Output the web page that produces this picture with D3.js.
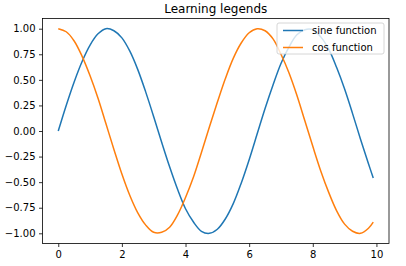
<!DOCTYPE html>
<html>
<head>
<meta charset="utf-8">
<script src="https://cdn.jsdelivr.net/npm/d3@7"></script>
<style>
  html, body { margin: 0; background: #fff; }
  svg { display: block; font-family: "DejaVu Sans", sans-serif; }
</style>
</head>
<body>
<div id="chart"></div>
<script>
// values
var xs = [0, 0.25, 0.5, 0.75, 1, 1.25, 1.5, 1.75, 2, 2.25, 2.5, 2.75, 3, 3.25, 3.5, 3.75,
          4, 4.25, 4.5, 4.75, 5, 5.25, 5.5, 5.75, 6, 6.25, 6.5, 6.75, 7, 7.25, 7.5, 7.75,
          8, 8.25, 8.5, 8.75, 9, 9.25, 9.5, 9.75, 9.9];
var sineVals = [0.00, 0.25, 0.48, 0.68, 0.84, 0.95, 1.00, 0.98, 0.91, 0.78, 0.60, 0.38, 0.14, -0.11, -0.35, -0.57,
                -0.76, -0.89, -0.98, -1.00, -0.96, -0.86, -0.71, -0.51, -0.28, -0.03, 0.22, 0.45, 0.66, 0.82, 0.94, 0.99,
                0.99, 0.92, 0.80, 0.62, 0.41, 0.17, -0.08, -0.32, -0.46];
var cosVals = [1.00, 0.97, 0.88, 0.73, 0.54, 0.32, 0.07, -0.18, -0.42, -0.63, -0.80, -0.92, -0.99, -0.99, -0.94, -0.82,
               -0.65, -0.45, -0.21, 0.04, 0.28, 0.51, 0.71, 0.86, 0.96, 1.00, 0.98, 0.90, 0.75, 0.57, 0.35, 0.10,
               -0.15, -0.39, -0.60, -0.78, -0.91, -0.98, -1.00, -0.95, -0.89];
var seriesNames = ["sine function", "cos function"];
var xTicks = [0, 2, 4, 6, 8, 10];
var yTicks = [-1, -0.75, -0.5, -0.25, 0, 0.25, 0.5, 0.75, 1];
var title = "Learning legends";

var width = 406, height = 266,
    margin = {top: 18.5, right: 17, bottom: 22.5, left: 42.5};
var colors = ["#1f77b4", "#ff7f0e"];

var svg = d3.select("#chart").append("svg")
    .attr("width", width)
    .attr("height", height);

var x = d3.scaleLinear()
    .domain([-0.495, 10.395])
    .range([margin.left, width - margin.right]);
var y = d3.scaleLinear()
    .domain([-1.0996, 1.0996])
    .range([height - margin.bottom, margin.top]);

var fmtY = function(d) { return d3.format(".2f")(d).replace("-", "\u2212"); };

// lines
var line = d3.line()
    .x(function(d) { return x(d[0]); })
    .y(function(d) { return y(d[1]); })
    .curve(d3.curveCatmullRom.alpha(0.5));

[sineVals, cosVals].forEach(function(vals, i) {
  svg.append("path")
      .datum(xs.map(function(v, j) { return [v, vals[j]]; }))
      .attr("fill", "none")
      .attr("stroke", colors[i])
      .attr("stroke-width", 1.5)
      .attr("d", line);
});

// axes
var xAxis = svg.append("g")
    .attr("transform", "translate(0," + (height - margin.bottom) + ")")
    .call(d3.axisBottom(x).tickValues(xTicks).tickSize(3.5).tickPadding(3.5).tickFormat(d3.format("d")));
var yAxis = svg.append("g")
    .attr("transform", "translate(" + margin.left + ",0)")
    .call(d3.axisLeft(y).tickValues(yTicks).tickSize(3.5).tickPadding(3.5).tickFormat(fmtY));
[xAxis, yAxis].forEach(function(a) {
  a.select(".domain").remove();
  a.selectAll("text").attr("font-size", 10).attr("fill", "#000").attr("font-family", "DejaVu Sans, sans-serif");
  a.selectAll("line").attr("stroke", "#000").attr("stroke-width", 0.8);
});

// frame
svg.append("rect")
    .attr("x", margin.left)
    .attr("y", margin.top)
    .attr("width", width - margin.left - margin.right)
    .attr("height", height - margin.top - margin.bottom)
    .attr("fill", "none")
    .attr("stroke", "#000")
    .attr("stroke-width", 0.8);

// title
svg.append("text")
    .attr("x", (margin.left + width - margin.right) / 2)
    .attr("y", 13)
    .attr("text-anchor", "middle")
    .attr("font-size", 12)
    .text(title);

// legend
var lg = svg.append("g").attr("transform", "translate(277,23)");
lg.append("rect")
    .attr("width", 107)
    .attr("height", 31)
    .attr("rx", 2)
    .attr("fill", "#fff")
    .attr("fill-opacity", 0.8)
    .attr("stroke", "#ccc")
    .attr("stroke-width", 0.8);
seriesNames.forEach(function(name, i) {
  var gy = 7.5 + i * 17;
  lg.append("line")
      .attr("x1", 6).attr("x2", 26)
      .attr("y1", gy).attr("y2", gy)
      .attr("stroke", colors[i])
      .attr("stroke-width", 1.5);
  lg.append("text")
      .attr("x", 35)
      .attr("y", gy + 3.5)
      .attr("font-size", 10)
      .text(name);
});
</script>
</body>
</html>
